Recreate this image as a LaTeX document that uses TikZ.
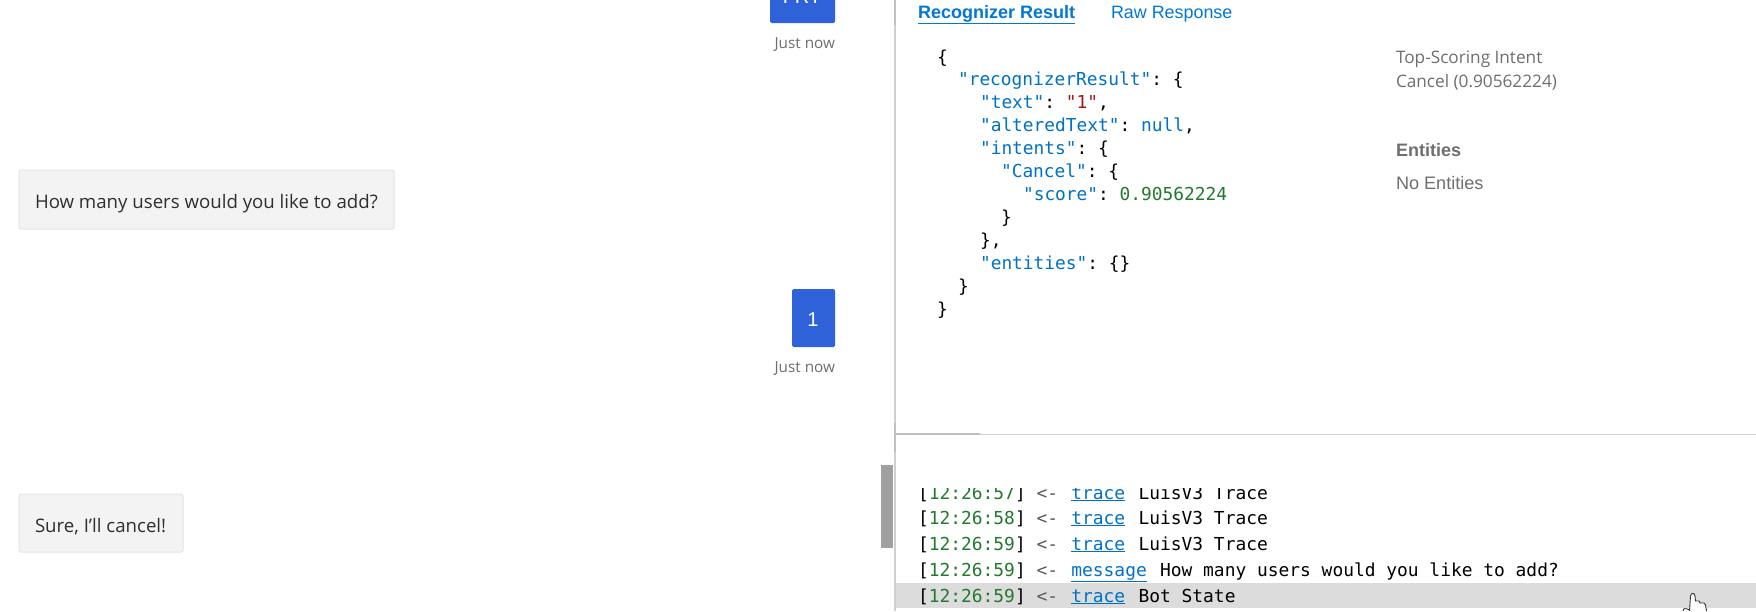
\documentclass[tikz,border=0pt]{standalone}
\usepackage{fontspec}
\setmainfont{Open Sans}
\setmonofont{DejaVu Sans Mono}
\newfontfamily\arialf{Liberation Sans}
\definecolor{btn}{HTML}{2F62D9}
\definecolor{bub}{HTML}{F3F3F3}
\definecolor{bubline}{HTML}{E4E4E4}
\definecolor{txt}{HTML}{2F2F2F}
\definecolor{sub}{HTML}{6E6E6E}
\definecolor{lnk}{HTML}{0078D4}
\definecolor{jkey}{HTML}{0072C6}
\definecolor{jstr}{HTML}{A31515}
\definecolor{jnum}{HTML}{217A2E}
\definecolor{sep}{HTML}{D0D0D0}
\definecolor{sepd}{HTML}{C0C0C0}
\definecolor{rowhl}{HTML}{DCDCDC}
\definecolor{scr}{HTML}{A0A0A0}
\newcommand{\K}[1]{\textcolor{jkey}{#1}}
\newcommand{\St}[1]{\textcolor{jstr}{#1}}
\newcommand{\Nm}[1]{\textcolor{jnum}{#1}}
\newcommand{\Tm}[1]{\textcolor{jnum}{#1}}
\newcommand{\Lk}[1]{\hspace{2.5pt}\textcolor{jkey}{\underline{#1}}\hspace{2.5pt}}
\newcommand{\Ar}{\textcolor{black!65}{<-}}
\tikzset{
  x=1pt,y=-1pt,
  every node/.style={inner sep=0pt,outer sep=0pt,anchor=base west},
  bubble/.style={draw=bubline,fill=bub,line width=1pt,rounded corners=2pt},
  btnbox/.style={fill=btn,rounded corners=1.5pt},
  chat/.style={text=txt,font=\fontsize{18.65}{23}\selectfont},
  stamp/.style={text=sub,font=\fontsize{15.3}{18}\selectfont,anchor=base east},
  btntxt/.style={text=white,font=\arialf\fontsize{20}{22}\selectfont,anchor=base},
  mono/.style={font=\ttfamily\fontsize{17.85}{23}\selectfont,text=black},
  logline/.style={font=\ttfamily\fontsize{17.9}{23}\selectfont,text=black},
  side/.style={text=sub,font=\fontsize{17.2}{22}\selectfont},
  sidearial/.style={text=sub,font=\arialf\fontsize{18.1}{22}\selectfont},
  tab/.style={text=lnk,font=\arialf\fontsize{17.9}{22}\selectfont},
}
\begin{document}
\begin{tikzpicture}
\useasboundingbox (0,0) rectangle (1756,611);
\fill[white] (0,0) rectangle (1756,611);
% chat bubbles
\path[bubble] (19,170) rectangle (394,229);
\node[chat] (q1) at (35,208) {How many users would you like to add?};
\path[bubble] (19,494) rectangle (183,552);
\node[chat] (q2) at (35,532) {Sure, I’ll cancel!};
% user buttons
\begin{scope}
\clip (0,0) rectangle (1756,611);
\path[btnbox] (770,-10) rectangle (835,23);
\node[btntxt] (b0) at (802,3) {FRT};
\end{scope}
\path[btnbox] (792,289) rectangle (835,347);
\node[btntxt] (b1) at (813,326) {1};
\node[stamp] (s0) at (835,48) {Just now};
\node[stamp] (s1) at (835,372) {Just now};
% scrollbar
\fill[scr] (881,465) rectangle (893,548);
% row highlight
\fill[rowhl] (895,583) rectangle (1756,608);
% separators
\fill[sep] (894,0) rectangle (896,611);
\fill[sepd] (893.5,0) rectangle (895.5,25);
\fill[sepd] (893.5,423) rectangle (895.5,452);
\fill[sep] (895,433.5) rectangle (1756,434.8);
\fill[sepd] (895,433) rectangle (980,435);
% tabs
\node[tab,font=\arialf\bfseries\fontsize{18}{22}\selectfont] (t1) at (918,18) {\underline{Recognizer Result}};
\node[tab] (t2) at (1111,18) {Raw Response};
% JSON
\node[mono] (j01) at (937,63) {\{};
\node[mono] (j02) at (958,85) {\K{"recognizerResult"}: \{};
\node[mono] (j03) at (980,108) {\K{"text"}: \St{"1"},};
\node[mono] (j04) at (980,131) {\K{"alteredText"}: \K{null},};
\node[mono] (j05) at (980,154) {\K{"intents"}: \{};
\node[mono] (j06) at (1001,177) {\K{"Cancel"}: \{};
\node[mono] (j07) at (1023,200) {\K{"score"}: \Nm{0.90562224}};
\node[mono] (j08) at (1001,223) {\}};
\node[mono] (j09) at (980,246) {\},};
\node[mono] (j10) at (980,269) {\K{"entities"}: \{\}};
\node[mono] (j11) at (958,292) {\}};
\node[mono] (j12) at (937,315) {\}};
% side panel
\node[side] (i1) at (1396,63) {Top-Scoring Intent};
\node[side] (i2) at (1396,87) {Cancel (0.90562224)};
\node[sidearial,font=\arialf\bfseries\fontsize{18}{22}\selectfont] (i3) at (1396,156) {Entities};
\node[sidearial] (i4) at (1396,189) {No Entities};
% log
\begin{scope}
\clip (895,488) rectangle (1756,611);
\node[logline] (l1) at (918,499) {[\Tm{12:26:57}] \Ar{} \Lk{trace} LuisV3 Trace};
\end{scope}
\node[logline] (l2) at (918,524) {[\Tm{12:26:58}] \Ar{} \Lk{trace} LuisV3 Trace};
\node[logline] (l3) at (918,550) {[\Tm{12:26:59}] \Ar{} \Lk{trace} LuisV3 Trace};
\node[logline] (l4) at (918,576) {[\Tm{12:26:59}] \Ar{} \Lk{message} How many users would you like to add?};
\node[logline] (l5) at (918,602) {[\Tm{12:26:59}] \Ar{} \Lk{trace} Bot State};
% hand cursor
\begin{scope}
\clip (1660,570) rectangle (1756,611);
\draw[line width=.9pt,black!80,fill=white] (1689.5,611) -- (1690.5,596) .. controls (1691,592.5) and (1694.5,592.5) .. (1695,596) -- (1695.5,601) -- (1699,601) -- (1700,603) -- (1704,603) -- (1705.5,605) -- (1706.5,611);
\draw[line width=.9pt,black!80] (1683,611) .. controls (1683,608) and (1686,608) .. (1689.5,610);
\end{scope}
\end{tikzpicture}
\end{document}
